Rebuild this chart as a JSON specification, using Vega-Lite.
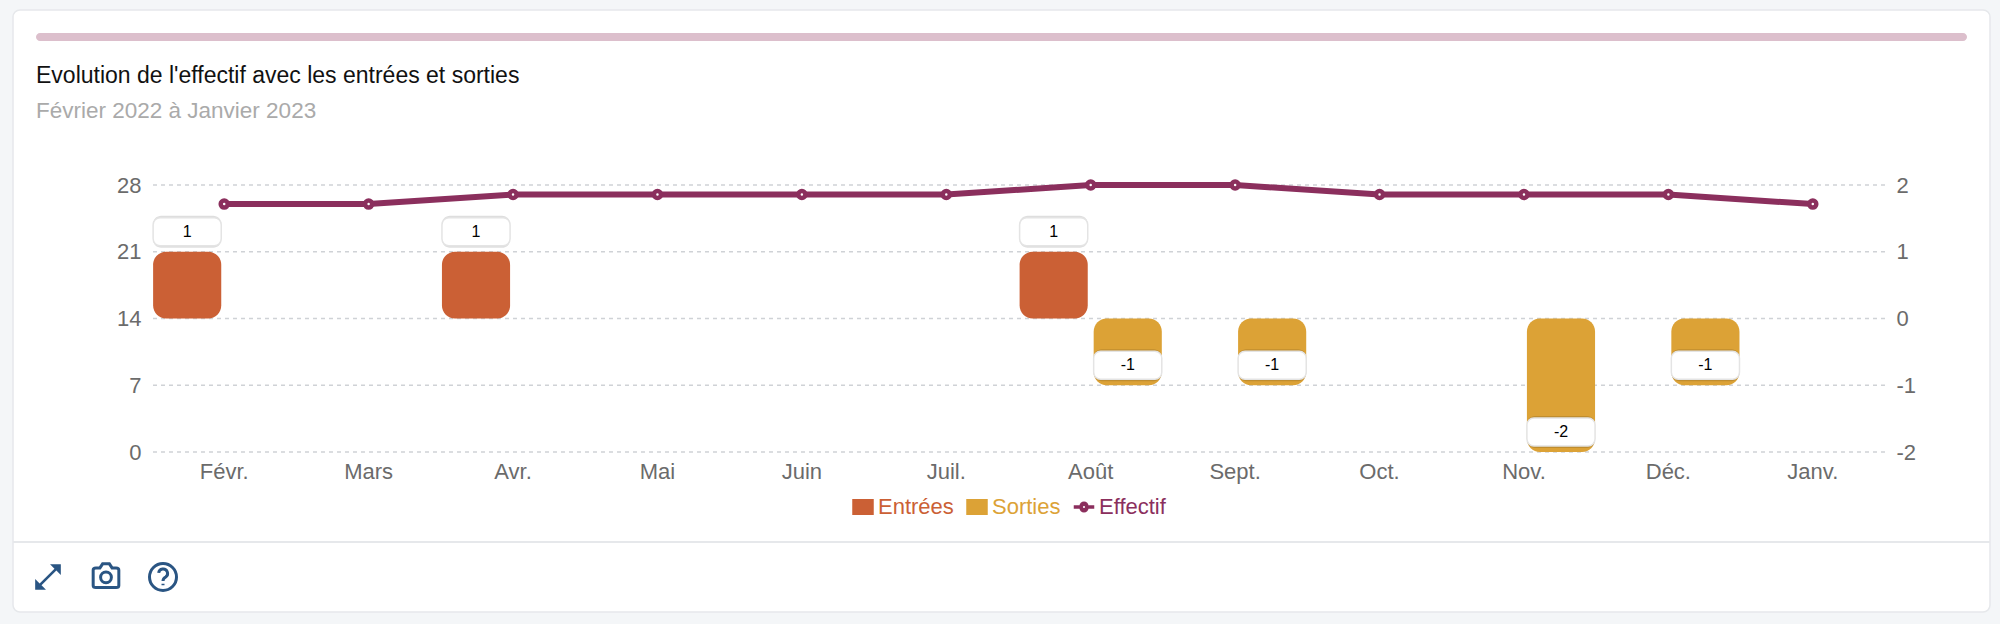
{
  "$schema": "https://vega.github.io/schema/vega-lite/v6.json",
  "width": 1733,
  "height": 267,
  "autosize": "none",
  "padding": {"left": 152, "top": 185, "right": 115, "bottom": 172},
  "background": "#f4f6f8",
  "view": {"stroke": null},
  "config": {
    "font": "Liberation Sans",
    "axis": {"labelFont": "Liberation Sans", "labelFontSize": 22, "labelColor": "#6b6b6b", "domain": false, "ticks": false, "grid": false, "title": null}
  },
  "title": {
    "text": "Evolution de l'effectif avec les entrées et sorties",
    "subtitle": "Février 2022 à Janvier 2023",
    "anchor": "start",
    "frame": "group",
    "dx": -116,
    "dy": 113,
    "offset": 0,
    "font": "Liberation Sans",
    "fontSize": 23,
    "fontWeight": "normal",
    "color": "#111111",
    "subtitleFont": "Liberation Sans",
    "subtitleFontSize": 22.5,
    "subtitleColor": "#aaaaaa",
    "subtitlePadding": 12
  },
  "data": {
    "values": [
      {"mois": "Févr.", "serie": "Entrées", "valeur": 1},
      {"mois": "Avr.", "serie": "Entrées", "valeur": 1},
      {"mois": "Août", "serie": "Entrées", "valeur": 1},
      {"mois": "Août", "serie": "Sorties", "valeur": -1},
      {"mois": "Sept.", "serie": "Sorties", "valeur": -1},
      {"mois": "Nov.", "serie": "Sorties", "valeur": -2},
      {"mois": "Déc.", "serie": "Sorties", "valeur": -1},
      {"mois": "Févr.", "serie": "Effectif", "valeur": 26},
      {"mois": "Mars", "serie": "Effectif", "valeur": 26},
      {"mois": "Avr.", "serie": "Effectif", "valeur": 27},
      {"mois": "Mai", "serie": "Effectif", "valeur": 27},
      {"mois": "Juin", "serie": "Effectif", "valeur": 27},
      {"mois": "Juil.", "serie": "Effectif", "valeur": 27},
      {"mois": "Août", "serie": "Effectif", "valeur": 28},
      {"mois": "Sept.", "serie": "Effectif", "valeur": 28},
      {"mois": "Oct.", "serie": "Effectif", "valeur": 27},
      {"mois": "Nov.", "serie": "Effectif", "valeur": 27},
      {"mois": "Déc.", "serie": "Effectif", "valeur": 27},
      {"mois": "Janv.", "serie": "Effectif", "valeur": 26}
    ]
  },
  "resolve": {"scale": {"y": "independent"}},
  "layer": [
    {
      "data": {"values": [{}]},
      "mark": {"type": "rect", "fill": "#ffffff", "stroke": "#e6e8eb", "strokeWidth": 1.5, "cornerRadius": 7},
      "encoding": {"x": {"value": -139}, "x2": {"value": 1838}, "y": {"value": -175}, "y2": {"value": 427}}
    },
    {
      "data": {"values": [{}]},
      "mark": {"type": "rect", "fill": "#dcbfcc", "cornerRadius": 4},
      "encoding": {"x": {"value": -116}, "x2": {"value": 1815}, "y": {"value": -152}, "y2": {"value": -144}}
    },
    {
      "data": {"values": [{}]},
      "mark": {"type": "rule", "stroke": "#e6e8eb", "strokeWidth": 2},
      "encoding": {"x": {"value": -139}, "x2": {"value": 1838}, "y": {"value": 357}}
    },
    {
      "data": {"values": [{}]},
      "mark": {"type": "point", "filled": true, "fill": "#2a5583", "opacity": 1, "size": 729, "shape": "M0.15,-0.95H0.95V-0.15L0.62,-0.48L-0.48,0.62L-0.15,0.95H-0.95V0.15L-0.62,0.48L0.48,-0.62Z"},
      "encoding": {"x": {"value": -104}, "y": {"value": 392}}
    },
    {
      "data": {"values": [{}]},
      "mark": {"type": "point", "filled": false, "stroke": "#2a5583", "opacity": 1, "strokeWidth": 3, "size": 729, "shape": "M-0.95,-0.45Q-0.95,-0.6,-0.75,-0.6H-0.45L-0.25,-0.9H0.25L0.45,-0.6H0.75Q0.95,-0.6,0.95,-0.45V0.7Q0.95,0.85,0.75,0.85H-0.75Q-0.95,0.85,-0.95,0.7ZM0.4,0.1A0.4,0.4,0,1,1,-0.4,0.1A0.4,0.4,0,1,1,0.4,0.1Z"},
      "encoding": {"x": {"value": -46}, "y": {"value": 391}}
    },
    {
      "data": {"values": [{}]},
      "mark": {"type": "point", "filled": false, "stroke": "#2a5583", "opacity": 1, "strokeWidth": 3, "size": 729, "shape": "M1,0A1,1,0,1,1,-1,0A1,1,0,1,1,1,0ZM-0.32,-0.3A0.33,0.33,0,1,1,0.2,0Q0,0.12,0,0.3M0,0.5V0.62"},
      "encoding": {"x": {"value": 11}, "y": {"value": 392}}
    },
    {
      "data": {"values": [{"repere": 0}, {"repere": 7}, {"repere": 14}, {"repere": 21}, {"repere": 28}]},
      "mark": {"type": "rule", "stroke": "#cfd2d6", "strokeWidth": 1.5, "strokeDash": [4, 4]},
      "encoding": {
        "y": {"field": "repere", "type": "quantitative", "scale": {"domain": [0, 28]}, "axis": null}
      }
    },
    {
      "transform": [{"filter": "datum.serie != 'Effectif'"}],
      "mark": {"type": "bar", "cornerRadius": 13},
      "encoding": {
        "x": {
          "field": "mois",
          "type": "nominal",
          "sort": null,
          "scale": {"domain": ["Févr.", "Mars", "Avr.", "Mai", "Juin", "Juil.", "Août", "Sept.", "Oct.", "Nov.", "Déc.", "Janv."], "paddingInner": 0, "paddingOuter": 0},
          "axis": {"labelAngle": 0, "labelPadding": 9, "zindex": 1}
        },
        "xOffset": {"field": "serie", "type": "nominal", "scale": {"domain": ["Entrées", "Sorties"], "paddingInner": 0.08, "paddingOuter": 0.015}},
        "y": {
          "field": "valeur",
          "type": "quantitative",
          "stack": null,
          "scale": {"domain": [-2, 2], "nice": false},
          "axis": {"orient": "right", "values": [-2, -1, 0, 1, 2], "labelPadding": 11, "labelExpr": "'' + datum.value", "zindex": 1}
        },
        "color": {
          "field": "serie",
          "type": "nominal",
          "title": null,
          "scale": {"domain": ["Entrées", "Sorties", "Effectif"], "range": ["#cb6035", "#dca236", "#8b2f5d"]},
          "legend": {
            "orient": "none",
            "legendX": 700,
            "legendY": 311,
            "direction": "horizontal",
            "columnPadding": 10,
            "labelFont": "Liberation Sans",
            "labelFontSize": 22,
            "labelOffset": 4,
            "symbolSize": 400,
            "labelColor": {"expr": "datum.value == 'Entrées' ? '#cb6035' : datum.value == 'Sorties' ? '#dca236' : '#8b2f5d'"},
            "encode": {
              "symbols": {
                "update": {
                  "shape": {"signal": "datum.value == 'Effectif' ? 'M-0.95,-0.1H-0.38A0.38,0.38,0,0,1,0.38,-0.1H0.95V0.1H0.38A0.38,0.38,0,0,1,-0.38,0.1H-0.95ZM0.18,0A0.18,0.18,0,1,0,-0.18,0A0.18,0.18,0,1,0,0.18,0Z' : 'M-1,-0.72H1V0.72H-1Z'"},
                  "fill": {"scale": "color", "field": "value"},
                  "stroke": {"value": "transparent"},
                  "opacity": {"value": 1}
                }
              }
            }
          }
        }
      }
    },
    {
      "transform": [{"filter": "datum.serie != 'Effectif'"}],
      "mark": {"type": "bar", "fill": "#000000", "opacity": 0.13, "cornerRadius": 8, "yOffset": -4, "y2Offset": -36},
      "encoding": {
        "x": {"field": "mois", "type": "nominal", "sort": null},
        "xOffset": {"field": "serie", "type": "nominal"},
        "y": {"field": "valeur", "type": "quantitative", "stack": null, "scale": {"domain": [-2, 2], "nice": false}, "axis": null},
        "y2": {"field": "valeur"}
      }
    },
    {
      "transform": [{"filter": "datum.serie != 'Effectif'"}],
      "mark": {"type": "bar", "fill": "#ffffff", "stroke": "#e4e4e4", "strokeWidth": 1.5, "cornerRadius": 7, "yOffset": -6, "y2Offset": -34},
      "encoding": {
        "x": {"field": "mois", "type": "nominal", "sort": null},
        "xOffset": {"field": "serie", "type": "nominal"},
        "y": {"field": "valeur", "type": "quantitative", "stack": null, "scale": {"domain": [-2, 2], "nice": false}, "axis": null},
        "y2": {"field": "valeur"}
      }
    },
    {
      "transform": [{"filter": "datum.serie != 'Effectif'"}],
      "mark": {"type": "text", "font": "Liberation Sans", "fontSize": 16, "color": "#000000", "yOffset": -20, "baseline": "middle"},
      "encoding": {
        "x": {"field": "mois", "type": "nominal", "sort": null},
        "xOffset": {"field": "serie", "type": "nominal"},
        "y": {"field": "valeur", "type": "quantitative", "stack": null, "scale": {"domain": [-2, 2], "nice": false}, "axis": null},
        "text": {"field": "valeur", "type": "nominal"}
      }
    },
    {
      "transform": [{"filter": "datum.serie == 'Effectif'"}],
      "mark": {"type": "line", "strokeWidth": 6, "point": {"filled": true, "fill": "#ffffff", "stroke": "#8b2f5d", "strokeWidth": 4.5, "size": 49, "opacity": 1}},
      "encoding": {
        "x": {"field": "mois", "type": "nominal", "sort": null},
        "y": {
          "field": "valeur",
          "type": "quantitative",
          "scale": {"domain": [0, 28], "nice": false},
          "axis": {"orient": "left", "values": [0, 7, 14, 21, 28], "labelPadding": 11, "zindex": 1}
        },
        "color": {"field": "serie", "type": "nominal", "title": null}
      }
    }
  ]
}
